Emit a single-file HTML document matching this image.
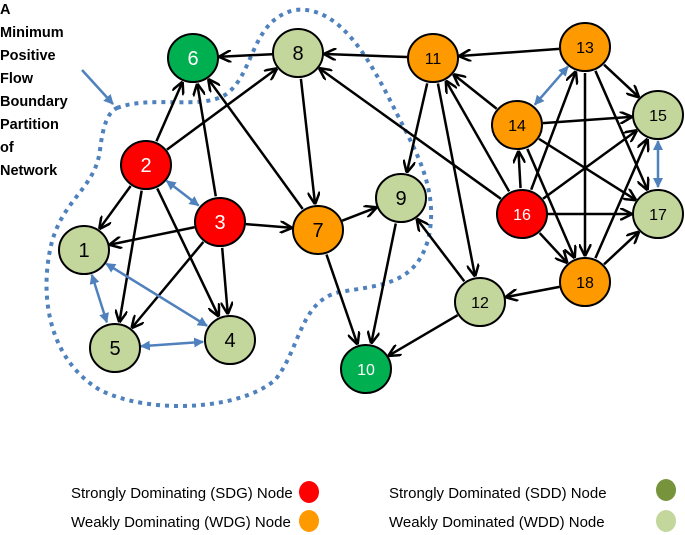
<!DOCTYPE html>
<html><head><meta charset="utf-8"><style>
html,body{margin:0;padding:0;background:#fff;width:685px;height:535px;overflow:hidden}
svg{display:block}
text{font-family:"Liberation Sans",sans-serif}
</style></head><body>
<svg id="s" width="685" height="535" viewBox="0 0 685 535" xmlns="http://www.w3.org/2000/svg">
<defs>
<marker id="ab" viewBox="0 0 10 10" refX="9" refY="5" markerWidth="5" markerHeight="5" orient="auto-start-reverse"><path d="M0,0 L10,5 L0,10" fill="none" stroke="#000" stroke-width="2"/></marker>
<marker id="au" viewBox="0 0 10 10" refX="9" refY="5" markerWidth="4" markerHeight="4" orient="auto-start-reverse"><path d="M0,0 L10,5 L0,10 z" fill="#4f81bd"/></marker>
</defs>
<path d="M117,108 C150,95 200,110 225,95 C255,75 250,20 295,10 C340,5 370,60 395,110 C415,150 440,190 428,240 C415,285 380,285 340,292 C300,300 300,350 275,380 C240,410 150,415 100,390 C50,360 40,300 50,250 C60,200 95,190 100,150 C103,125 108,112 117,108 Z" fill="none" stroke="#4f81bd" stroke-width="4" stroke-dasharray="4,5"/>
<line x1="82" y1="70" x2="113" y2="104" stroke="#4f81bd" stroke-width="2.5" marker-end="url(#au)"/>
<g id="edges"></g>
<g id="nodes"></g>
<g font-size="14.5" font-weight="bold" fill="#000">
<text x="0" y="14">A</text><text x="0" y="37">Minimum</text><text x="0" y="60">Positive</text><text x="0" y="83">Flow</text><text x="0" y="106">Boundary</text><text x="0" y="129">Partition</text><text x="0" y="152">of</text><text x="0" y="175">Network</text>
</g>
<g font-size="15" fill="#000">
<text x="71" y="498">Strongly Dominating (SDG) Node</text>
<text x="71" y="527">Weakly Dominating (WDG) Node</text>
<text x="389" y="498">Strongly Dominated (SDD) Node</text>
<text x="389" y="527">Weakly Dominated (WDD) Node</text>
</g>
<ellipse cx="309" cy="492" rx="10" ry="11" fill="#ff0000"/>
<ellipse cx="309" cy="521" rx="10" ry="11" fill="#ff9900"/>
<ellipse cx="666" cy="490" rx="10" ry="11" fill="#77933c"/>
<ellipse cx="666" cy="521" rx="10" ry="11" fill="#c3d69b"/>
</svg>
<script>
var N={1:[84,250,'g'],2:[146,165,'r'],3:[220,222,'r'],4:[230,340,'g'],5:[115,348,'g'],6:[193,58,'G'],7:[318,230,'o'],8:[298,53,'g'],9:[401,198,'g'],10:[366,369,'G'],11:[433,58,'o'],12:[480,302,'g'],13:[585,47,'o'],14:[517,125,'o'],15:[658,115,'g'],16:[522,214,'r'],17:[658,214,'g'],18:[585,282,'o']};
var C={r:['#ff0000','#fff'],o:['#ff9900','#000'],g:['#c3d69b','#000'],G:['#00b050','#fff']};
var E=[[8,6],[2,6],[3,6],[7,6],[2,8],[11,8],[16,8],[8,7],[2,1],[2,5],[2,4],[3,1],[3,5],[3,4],[3,7],[7,9],[7,10],[9,10],[12,9],[12,10],[11,9],[11,12],[13,11],[14,11],[16,11],[14,15],[14,17],[14,18],[16,14],[16,13],[16,15],[16,17],[16,18],[13,15],[13,17],[13,18],[18,15],[18,17],[18,12]];
var B=[[2,3],[1,5],[1,4],[5,4],[13,14],[15,17]];
var ns="http://www.w3.org/2000/svg",eg=document.getElementById('edges'),ng=document.getElementById('nodes');
function ln(a,b,blue){var p=N[a],q=N[b],dx=q[0]-p[0],dy=q[1]-p[1],d=Math.hypot(dx,dy),ux=dx/d,uy=dy/d,r=26;
var l=document.createElementNS(ns,'line');l.setAttribute('x1',p[0]+ux*r);l.setAttribute('y1',p[1]+uy*r);l.setAttribute('x2',q[0]-ux*(r+1));l.setAttribute('y2',q[1]-uy*(r+1));
l.setAttribute('stroke',blue?'#4f81bd':'#000');l.setAttribute('stroke-width',blue?2.5:2.5);
if(blue){l.setAttribute('marker-end','url(#au)');l.setAttribute('marker-start','url(#au)');}else l.setAttribute('marker-end','url(#ab)');eg.appendChild(l);}
E.forEach(function(e){ln(e[0],e[1],0)});B.forEach(function(e){ln(e[0],e[1],1)});
for(var k in N){var n=N[k],c=C[n[2]];var el=document.createElementNS(ns,'ellipse');el.setAttribute('cx',n[0]);el.setAttribute('cy',n[1]);el.setAttribute('rx',25);el.setAttribute('ry',24);el.setAttribute('fill',c[0]);el.setAttribute('stroke','#000');el.setAttribute('stroke-width',2);ng.appendChild(el);
var t=document.createElementNS(ns,'text');t.setAttribute('x',n[0]);t.setAttribute('y',n[1]+(k<10?7:6));t.setAttribute('text-anchor','middle');t.setAttribute('font-size',k<10?20:16);t.setAttribute('fill',c[1]);t.textContent=k;ng.appendChild(t);}
</script>
</body></html>
